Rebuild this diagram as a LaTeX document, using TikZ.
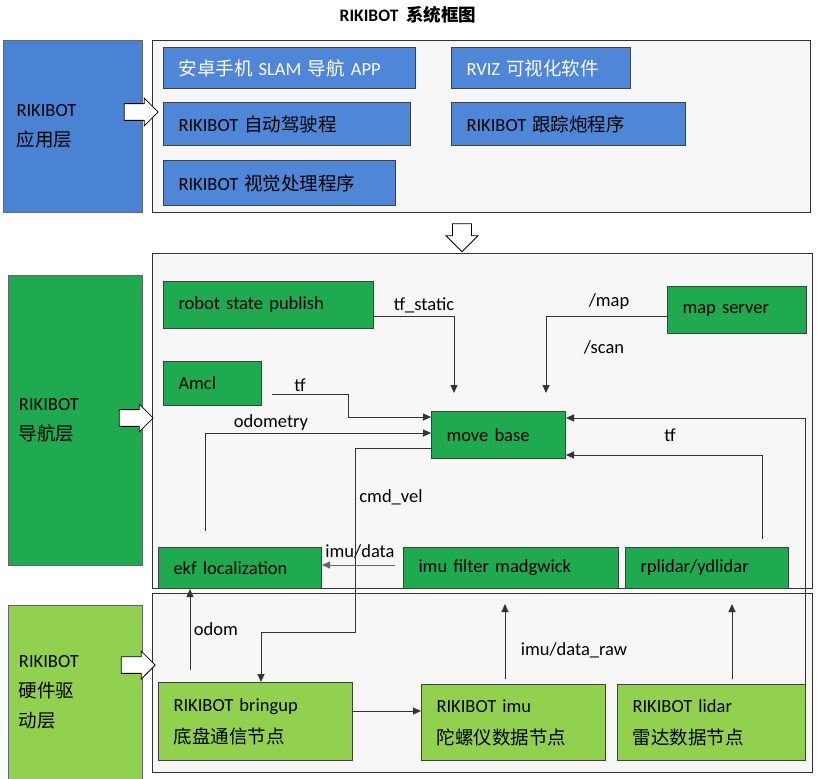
\documentclass[tikz,border=0pt]{standalone}
\usepackage{fontspec}
\setmainfont{Carlito}
\newfontfamily\cjk{Noto Sans CJK SC}
\usetikzlibrary{arrows.meta,shapes.arrows}
\definecolor{appblue}{HTML}{4A82D4}
\definecolor{appbox}{HTML}{4F86D8}
\definecolor{navg}{HTML}{1FAA50}
\definecolor{hwg}{HTML}{92D050}
\definecolor{panel}{HTML}{F7F7F7}
\begin{document}
\begin{tikzpicture}[x=1pt,y=-1pt,
 lay/.style={draw=black!60,line width=0.8pt,align=left,font=\fontsize{18.5}{30}\selectfont,inner sep=0pt},
 pan/.style={draw=black!80,fill=panel,line width=0.8pt},
 box/.style={draw=black!75,line width=1pt,anchor=north west,font=\fontsize{18.5}{22}\selectfont,align=left,inner ysep=0pt,inner xsep=15pt},
 ab/.style={box,fill=appbox},
 nb/.style={box,fill=navg},
 hb/.style={box,fill=hwg,font=\fontsize{18.5}{32}\selectfont},
 lbl/.style={font=\fontsize{18.5}{22}\selectfont,inner sep=1pt},
 con/.style={draw=black!80,line width=1pt},
 arr/.style={con,-{Triangle[length=8pt,width=7pt]}},
 hol/.style={single arrow,draw=black,fill=white,line width=0.8pt,minimum height=34pt,minimum width=28pt,single arrow head extend=5pt,inner xsep=0pt,inner ysep=0pt,text height=14pt,text depth=0pt}]
\useasboundingbox (0,0) rectangle (817,779);
\node[font=\bfseries\fontsize{17.5}{20}\selectfont] (title) at (408,15) {RIKIBOT\ \ {\cjk 系统框图}};
% app layer
\node[lay,fill=appblue,minimum width=139pt,minimum height=172pt,text width=112pt] (l1) at (72.5,126) {RIKIBOT\\{\cjk 应用层}};
\draw[pan] (152,40) rectangle (810,212);
\node[hol] (h1) at (137,112) {};
\node[ab,minimum width=252pt,minimum height=41pt,text width=222pt,text=white] (a1) at (163,47) {{\cjk 安卓手机} SLAM {\cjk 导航} APP};
\node[ab,minimum width=179pt,minimum height=41pt,text width=149pt,text=white] (a2) at (451,47) {RVIZ {\cjk 可视化软件}};
\node[ab,minimum width=247pt,minimum height=43pt,text width=217pt] (a3) at (163,102) {RIKIBOT {\cjk 自动驾驶程}};
\node[ab,minimum width=234pt,minimum height=43pt,text width=204pt] (a4) at (451,102) {RIKIBOT {\cjk 跟踪炮程序}};
\node[ab,minimum width=232pt,minimum height=45pt,text width=202pt] (a5) at (163,160) {RIKIBOT {\cjk 视觉处理程序}};
\node[hol,rotate=-90,minimum height=28pt,minimum width=32pt] (h2) at (462,233) {};
% nav layer
\node[lay,fill=navg,minimum width=134pt,minimum height=290pt,text width=112pt] (l2) at (75,420) {RIKIBOT\\{\cjk 导航层}};
\draw[pan] (152,253) rectangle (812,588);
\node[hol] (h3) at (132,418) {};
\node[nb,minimum width=207pt,minimum height=47pt,text width=180pt] (rsp) at (163,281) {robot state publish};
\node[nb,minimum width=139pt,minimum height=47pt,text width=109pt] (ms) at (667,286) {map server};
\node[nb,minimum width=98pt,minimum height=44pt,text width=68pt] (amcl) at (163,361) {Amcl};
\node[nb,minimum width=134pt,minimum height=47pt,text width=104pt] (mb) at (431,411) {move base};
\node[nb,minimum width=160pt,minimum height=41pt,text width=133pt] (ekf) at (158,547) {ekf localization};
\node[nb,minimum width=215pt,minimum height=41pt,text width=185pt] (imuf) at (403,547) {imu filter madgwick};
\node[nb,minimum width=160pt,minimum height=41pt,text width=133pt] (rpl) at (625,547) {rplidar/ydlidar};
% hw layer
\node[lay,fill=hwg,minimum width=134pt,minimum height=174pt,text width=112pt] (l3) at (75,692) {RIKIBOT\\{\cjk 硬件驱}\\{\cjk 动层}};
\draw[pan] (152,593) rectangle (812,772);
\node[hol] (h4) at (134,665) {};
\node[hb,minimum width=194pt,minimum height=78pt,text width=164pt] (bu) at (158,682) {RIKIBOT bringup\\{\cjk 底盘通信节点}};
\node[hb,minimum width=184pt,minimum height=76pt,text width=154pt] (imu) at (421,684) {RIKIBOT imu\\{\cjk 陀螺仪数据节点}};
\node[hb,minimum width=188pt,minimum height=76pt,text width=158pt] (lid) at (617,684) {RIKIBOT lidar\\{\cjk 雷达数据节点}};
% connectors
\draw[arr] (rsp.east |- 0,316) -| (454,393);
\node[lbl] (ltfs) at (424,305) {tf\_static};
\draw[arr] (ms.west |- 0,316) -| (546,393);
\node[lbl] (lmap) at (609,302) {/map};
\node[lbl] (lscan) at (604,347) {/scan};
\draw[arr] (272,394) -- (348,394) -- (348,417) -- (mb.west |- 0,417);
\node[lbl] (ltf) at (300,385) {tf};
\draw[arr] (205,531) |- (mb.west |- 0,433);
\node[lbl] (lodo) at (271,423) {odometry};
\draw[arr] (mb.west |- 0,448) -| (355,632) -| (bu.north -| 261,0);
\node[lbl] (lcmd) at (391,497) {cmd\_vel};
\draw[arr] (lid.north -| 805,0) |- (mb.east |- 0,418);
\draw[arr] (rpl.north -| 762,0) ++(0,-8) |- (mb.east |- 0,455);
\node[lbl] (ltf2) at (670,435) {tf};
\draw[arr,draw=black!60,-{Triangle[length=8pt,width=7pt,fill=black!60]}] (395,565) -- (ekf.east |- 0,565);
\node[lbl] (limu) at (360,551) {imu/data};
\draw[arr] (bu.north -| 190,0) ++(0,-12) -- (ekf.south -| 190,0);
\node[lbl] (lodom) at (216,629) {odom};
\draw[arr] (imu.north -| 505,0) ++(0,-5) -- (505,604);
\node[lbl] (lraw) at (574,650) {imu/data\_raw};
\draw[arr] (lid.north -| 732,0) ++(0,-5) -- (732,604);
\draw[arr] (bu.east |- 0,711) -- (imu.west |- 0,711);
\end{tikzpicture}
\end{document}
